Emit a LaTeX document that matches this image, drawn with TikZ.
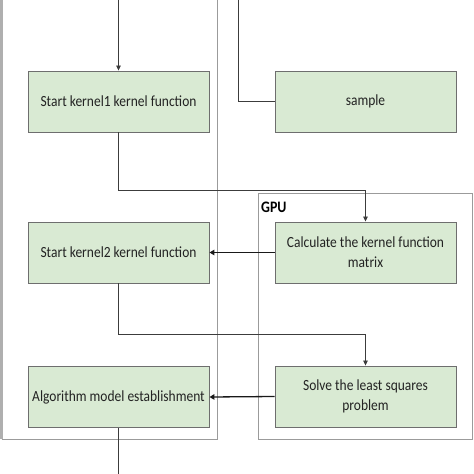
\documentclass[tikz,border=0pt]{standalone}
\usepackage{fontspec}
\setmainfont{Carlito}[FakeStretch=0.87]
\usetikzlibrary{arrows.meta,calc}
\definecolor{boxgreen}{RGB}{217,234,211}
\definecolor{boxgray}{RGB}{110,110,110}
\definecolor{panelgray}{RGB}{155,155,155}
\definecolor{wiregray}{RGB}{60,60,60}
\definecolor{textgray}{RGB}{35,35,35}
\newcommand{\boxfont}{\fontsize{15.5}{20}\selectfont}
\tikzset{
  flowbox/.style={draw=boxgray, fill=boxgreen, line width=0.9pt, minimum width=181pt, minimum height=61pt, inner sep=0pt, align=center, font=\boxfont, text=textgray},
  panel/.style={draw=panelgray, line width=1pt},
  wire/.style={draw=wiregray, line width=0.8pt},
  arr/.style={wire, -{Triangle[length=5pt,width=4.5pt]}},
  harr/.style={draw=black!90, line width=1.3pt, -{Triangle[length=5pt,width=5.5pt]}}
}
\begin{document}
\begin{tikzpicture}[x=1pt,y=-1pt]
\useasboundingbox (0,0) rectangle (474,474);
% panels
\draw[panel, line width=3pt, draw=panelgray!80] (1.5,-5) -- (1.5,439);
\draw[panel] (1.5,439) -- (217,439) -- (217,-5);
\draw[panel] (258,193) rectangle (472,439);
\node[font=\fontsize{16}{18}\selectfont\bfseries, anchor=west, inner sep=0pt, text=black] (gpulabel) at (261,207.5) {GPU};
% boxes
\node[flowbox] (k1) at (118.5,101.5) {Start kernel1 kernel function};
\node[flowbox] (sample) at (365.5,101.5) {sample};
\node[flowbox] (calc) at (365.5,252.5) {Calculate the kernel function\\matrix};
\node[flowbox] (k2) at (118.5,252.5) {Start kernel2 kernel function};
\node[flowbox] (solve) at (365.5,396.5) {Solve the least squares\\problem};
\node[flowbox] (algo) at (118.5,397) {Algorithm model establishment};
% connectors
\coordinate (in1) at (118.5,-2);
\coordinate (in2) at (238,-2);
\coordinate (out) at (118.5,476);
\draw[arr] (in1) -- (k1.north);
\draw[wire] (in2) |- (sample.west);
\draw[arr] (k1.south) -- ($(k1.south)+(0,58)$) -| (calc.north);
\draw[harr] (calc.west) -- (k2.east);
\draw[arr] (k2.south) -- ($(k2.south)+(0,51)$) -| (solve.north);
\draw[harr] (solve.west) -- (algo.east);
\draw[wire] (algo.south) -- (out);
\end{tikzpicture}
\end{document}
